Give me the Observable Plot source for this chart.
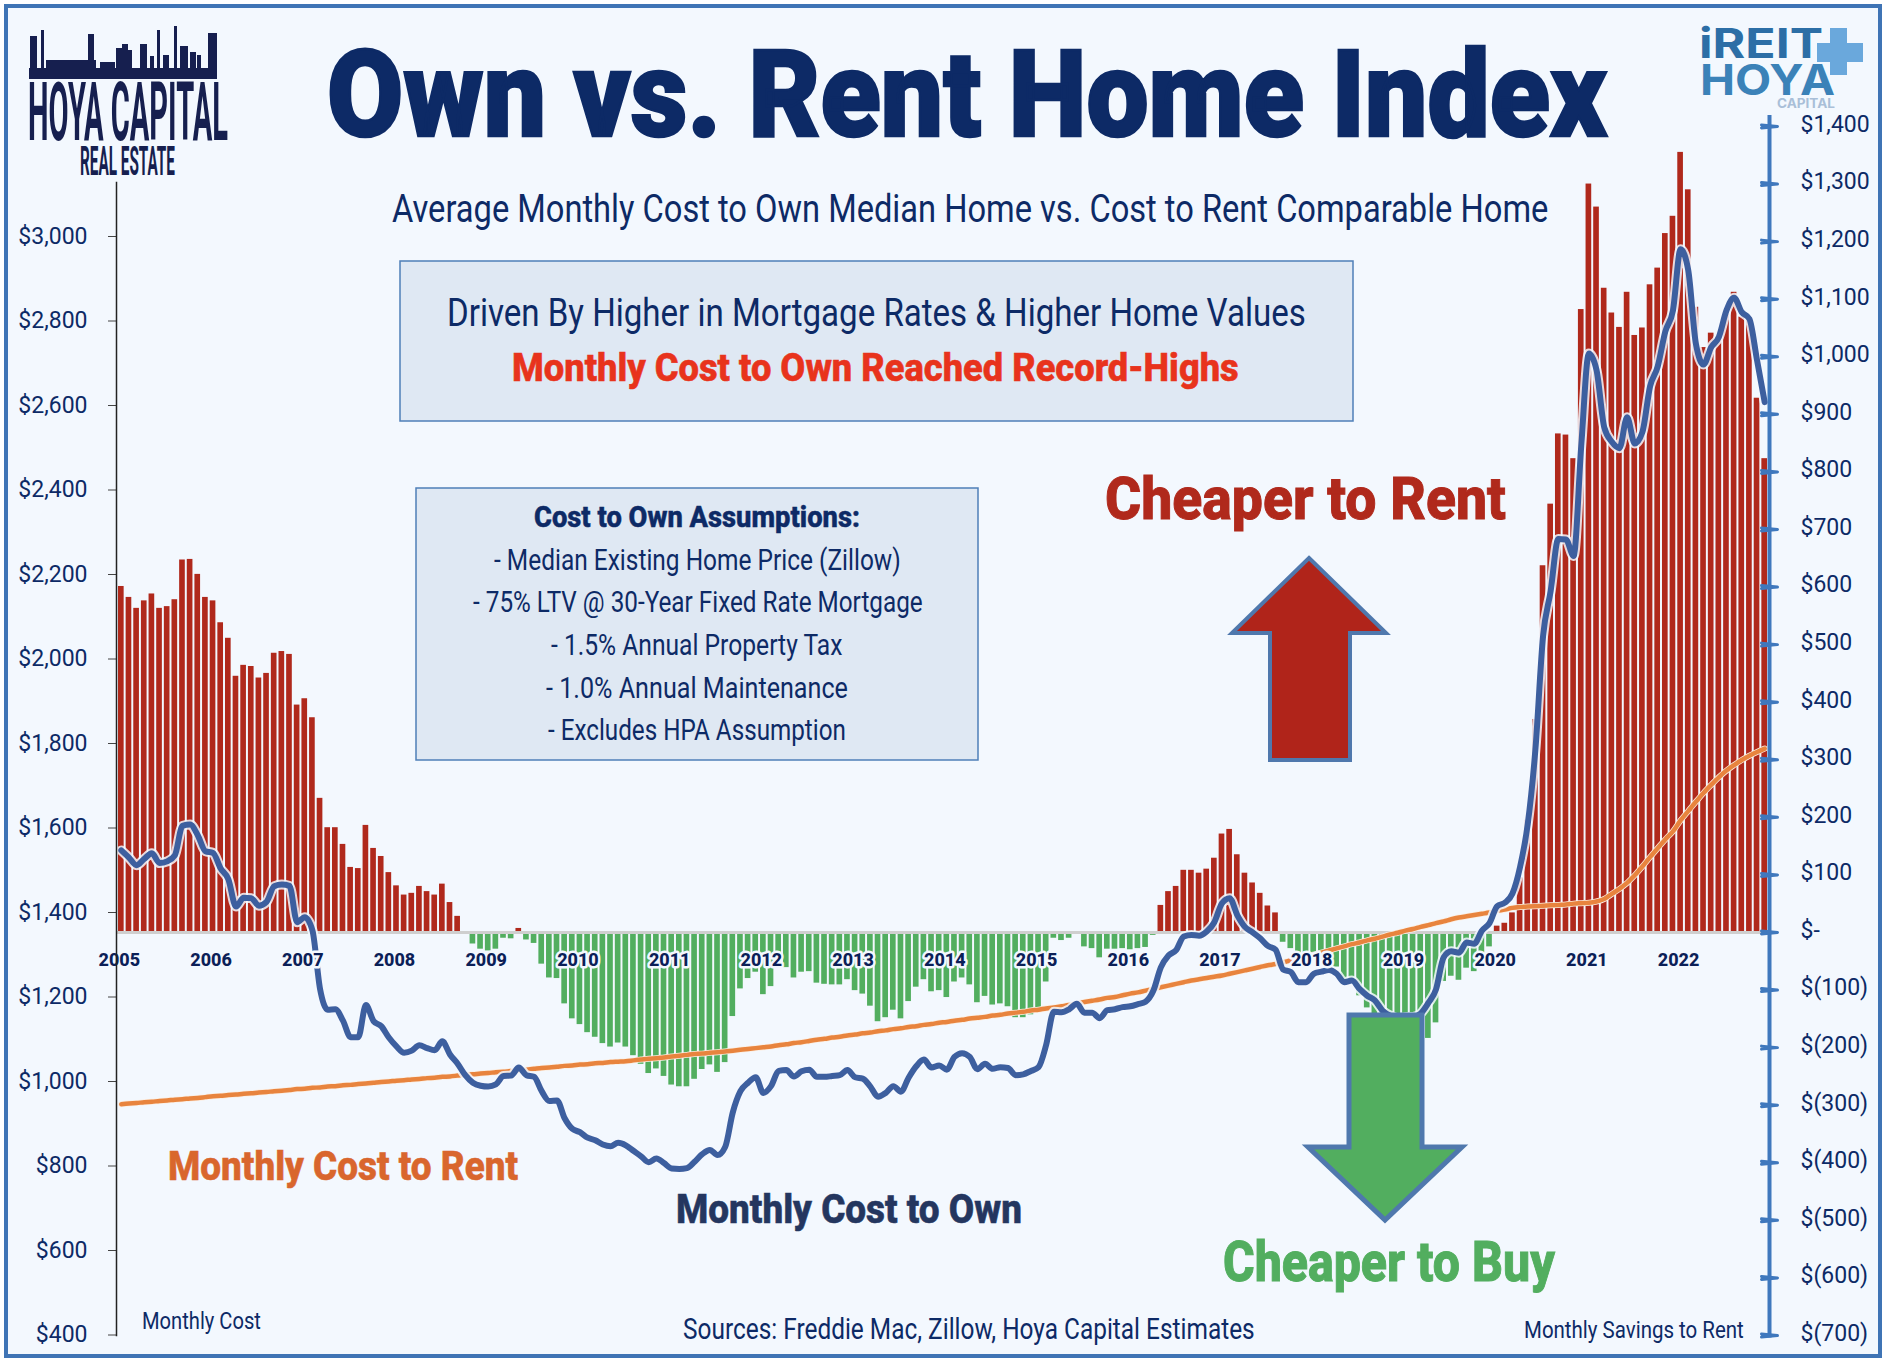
<!DOCTYPE html>
<html><head><meta charset="utf-8">
<script src="https://cdn.jsdelivr.net/npm/d3@7"></script>
<script src="https://cdn.jsdelivr.net/npm/@observablehq/plot@0.6"></script>
<style>
html,body{margin:0;padding:0;background:#fff;}
#panel{position:absolute;left:4px;top:4px;width:1870px;height:1346px;border:4px solid #3f74b5;background:#f3f8fe;}
#chart{position:absolute;left:0;top:0;}
</style></head><body>
<div id="panel"></div><div id="chart"></div>
<script>
const years = [2005,2006,2007,2008,2009,2010,2011,2012,2013,2014,2015,2016,2017,2018,2019,2020,2021,2022];
const leftTicks = [400,600,800,1000,1200,1400,1600,1800,2000,2200,2400,2600,2800,3000];
const leftLabels = ["$400","$600","$800","$1,000","$1,200","$1,400","$1,600","$1,800","$2,000","$2,200","$2,400","$2,600","$2,800","$3,000"];
const rightTicks = [-700,-600,-500,-400,-300,-200,-100,0,100,200,300,400,500,600,700,800,900,1000,1100,1200,1300,1400];
const rightLabels = ["$(700)","$(600)","$(500)","$(400)","$(300)","$(200)","$(100)","$-","$100","$200","$300","$400","$500","$600","$700","$800","$900","$1,000","$1,100","$1,200","$1,300","$1,400"];

const savings = [
601,582,563,576,588,563,566,578,647,648,622,582,
576,538,511,445,464,462,442,450,485,488,483,395,
406,373,233,182,182,153,113,111,186,146,132,104,
81,65,68,80,71,65,84,52,28,-1,-20,-29,
-32,-29,-10,-11,7,-13,-19,-55,-79,-80,-124,-150,
-160,-174,-182,-193,-199,-192,-199,-214,-229,-245,-237,-250,
-265,-268,-268,-255,-238,-230,-243,-226,-146,-98,-80,-69,
-108,-94,-61,-61,-79,-69,-68,-88,-90,-91,-91,-82,
-101,-107,-128,-155,-148,-135,-150,-120,-95,-82,-103,-101,
-113,-86,-79,-91,-122,-111,-126,-124,-129,-148,-148,-143,
-136,-86,-10,-14,-10,-1,-25,-28,-44,-29,-29,-28,
-30,-28,-26,-5,47,71,80,108,108,103,110,129,
171,179,135,103,86,68,46,34,-17,-28,-56,-61,
-45,-45,-46,-60,-85,-86,-110,-131,-146,-175,-192,-202,
-205,-208,-205,-184,-157,-85,-76,-83,-62,-68,-40,-25,
11,16,34,95,195,370,637,744,866,864,823,1082,
1300,1260,1119,1076,1051,1112,1037,1050,1125,1154,1214,1244,
1355,1290,1086,1016,1041,1035,1074,1112,1069,1066,928,823];

const rent = [
946,948,949,951,952,954,955,957,958,960,961,963,
965,966,968,969,971,972,974,975,977,978,980,982,
983,985,986,988,989,991,992,994,995,997,999,1000,
1002,1003,1005,1006,1008,1009,1011,1012,1014,1016,1017,1019,
1020,1022,1023,1025,1026,1028,1030,1032,1033,1035,1037,1038,
1040,1041,1043,1044,1046,1047,1048,1050,1052,1054,1055,1057,
1059,1061,1063,1065,1066,1068,1069,1071,1073,1075,1077,1079,
1081,1083,1086,1088,1091,1093,1096,1099,1101,1104,1106,1109,
1111,1114,1116,1119,1121,1124,1126,1129,1131,1134,1136,1139,
1141,1144,1146,1149,1151,1153,1156,1158,1161,1163,1165,1168,
1170,1173,1175,1178,1181,1185,1188,1191,1194,1198,1200,1204,
1208,1211,1215,1219,1223,1227,1231,1235,1239,1242,1245,1248,
1251,1255,1259,1263,1267,1271,1275,1278,1282,1287,1291,1296,
1300,1305,1310,1315,1320,1325,1329,1334,1338,1343,1348,1352,
1357,1361,1366,1370,1375,1379,1384,1388,1391,1394,1397,1400,
1404,1407,1411,1413,1414,1415,1416,1417,1418,1419,1421,1422,
1423,1426,1432,1444,1456,1470,1488,1509,1531,1552,1573,1592,
1618,1640,1662,1683,1702,1720,1736,1749,1761,1771,1780,1788];

const own = [
1547,1530,1512,1527,1540,1517,1521,1535,1605,1608,1583,1545,
1541,1504,1479,1414,1435,1434,1416,1425,1462,1466,1463,1377,
1389,1358,1219,1170,1171,1144,1105,1105,1181,1143,1131,1104,
1083,1068,1073,1086,1079,1074,1095,1064,1042,1015,997,990,
988,993,1013,1014,1033,1015,1011,977,954,955,913,888,
880,867,861,851,847,855,849,836,823,809,818,807,
794,793,795,810,828,838,826,845,927,977,997,1010,
973,989,1025,1027,1012,1024,1028,1011,1011,1013,1015,1027,
1010,1007,988,964,973,989,976,1009,1036,1052,1033,1038,
1028,1058,1067,1058,1029,1042,1030,1034,1032,1015,1017,1025,
1034,1087,1165,1164,1171,1184,1163,1163,1150,1169,1171,1176,
1178,1183,1189,1214,1270,1298,1311,1343,1347,1345,1355,1377,
1422,1434,1394,1366,1353,1339,1321,1312,1265,1259,1235,1235,
1255,1260,1264,1255,1235,1239,1219,1203,1192,1168,1156,1150,
1152,1153,1161,1186,1218,1294,1308,1305,1329,1326,1357,1375,
1415,1423,1445,1508,1609,1785,2053,2161,2284,2283,2244,2504,
2723,2684,2549,2514,2499,2572,2510,2537,2645,2692,2775,2825,
2970,2920,2746,2697,2738,2762,2825,2855,2821,2805,2707,2608];

const NAVY="#0d2a66", RED="#b0291c", GREEN="#52ae5f", ORANGE="#e8843e", LINE="#3d5f9f", AXIS="#3f78bd", BG="#f3f8fe";

const months = years.flatMap(y => d3.range(1,13).map(m => `${y}-${String(m).padStart(2,"0")}`));
const rows = months.map((month,i) => ({month, savings:savings[i], rent:rent[i], own:own[i]}));
const toCost = d3.scaleLinear().domain([0,1400]).range([1352.7,3260.4]);
const rightLabel = new Map(rightTicks.map((t,i)=>[t,rightLabels[i]]));
const leftLabel = new Map(leftTicks.map((t,i)=>[t,leftLabels[i]]));

/* annotations: text, x, baseline, size, weight, colour, width, extra stroke */
const texts = [
 ["Own vs. Rent Home Index",327,136,120,900,NAVY,1280,2.5],
 ["Average Monthly Cost to Own Median Home vs. Cost to Rent Comparable Home",392,222,38,400,NAVY,1157,0],
 ["Driven By Higher in Mortgage Rates & Higher Home Values",447,326,38,400,NAVY,859,0],
 ["Monthly Cost to Own Reached Record-Highs",512,381,38,800,"#e8331c",727,.6],
 ["Cost to Own Assumptions:",534,527,30,800,NAVY,326,.5],
 ["- Median Existing Home Price (Zillow)",494,570,30,400,NAVY,407,0],
 ["- 75% LTV @ 30-Year Fixed Rate Mortgage",473,612,30,400,NAVY,450,0],
 ["- 1.5% Annual Property Tax",551,655,30,400,NAVY,292,0],
 ["- 1.0% Annual Maintenance",546,698,30,400,NAVY,302,0],
 ["- Excludes HPA Assumption",548,740,30,400,NAVY,298,0],
 ["Cheaper to Rent",1105,519,60,800,RED,401,1],
 ["Cheaper to Buy",1223,1281,56,800,GREEN,332,1],
 ["Monthly Cost to Rent",168,1180,40,800,"#d9662d",350,.6],
 ["Monthly Cost to Own",676,1223,40,800,"#24365f",346,.6],
 ["Monthly Cost",142,1329,24,400,NAVY,119,0],
 ["Sources: Freddie Mac, Zillow, Hoya Capital Estimates",683,1339,29,400,NAVY,572,0],
 ["Monthly Savings to Rent",1524,1338,24,400,NAVY,220,0]
];
const boxes = [[400,261,953,160],[416,488,562,272]];
const redArrow = "1309,558 1386,633 1350,633 1350,760 1270,760 1270,633 1232,633";
const greenArrow = "1349,1015 1422,1015 1422,1147 1462,1147 1385,1220 1308,1147 1349,1147";
const towers = [[30,36,7],[41,30,3],[46,60,50],[88,34,6],[100,62,15],[116,48,6],[122,44,6],[128,50,4],[140,44,7],[150,56,4],[157,30,3],[163,55,6],[174,26,3],[180,46,8],[190,52,6],[197,55,4],[208,33,9]];

const measure = document.createElement("canvas").getContext("2d");
function fitted(g,s,x,y,size,weight,fill,len,family,sw=0){
  measure.font = `${weight} ${size}px ${family}`;
  const sx = len / measure.measureText(s).width;
  return g.append("text").text(s).attr("transform",`translate(${x},${y}) scale(${sx},1)`)
    .attr("font-size",size).attr("font-weight",weight).attr("fill",fill)
    .attr("stroke",sw?fill:"none").attr("stroke-width",sw).attr("font-family",family);
}
function overlay(){
  const g = d3.create("svg:g").attr("text-anchor","start");
  for (const [x,y,w,h] of boxes)
    g.append("rect").attr("x",x).attr("y",y).attr("width",w).attr("height",h).attr("fill","#dfe8f3").attr("stroke","#4f7fb8").attr("stroke-width",1.5);
  g.append("polygon").attr("points",redArrow).attr("fill","#b0241a").attr("stroke","#4f78ad").attr("stroke-width",4);
  g.append("polygon").attr("points",greenArrow).attr("fill",GREEN).attr("stroke","#4f78ad").attr("stroke-width",5);
  for (const [s,x,y,size,weight,fill,len,sw] of texts) fitted(g,s,x,y,size,weight,fill,len,"Roboto",sw);
  /* Hoya Capital logo */
  const ink="#161f4f";
  g.append("rect").attr("x",29).attr("y",68).attr("width",188).attr("height",11).attr("fill",ink);
  for (const [x,y,w] of towers) g.append("rect").attr("x",x).attr("y",y).attr("width",w).attr("height",70-y).attr("fill",ink);
  for (const [s,x,y,size,len] of [["HOYA CAPITAL",28,140,82,200],["REAL ESTATE",80,175,40,95]])
    fitted(g,s,x,y,size,700,ink,len,"Roboto");
  /* iREIT logo, masks the top of the right axis labels */
  g.append("rect").attr("x",1695).attr("y",12).attr("width",176).attr("height",103).attr("fill",BG);
  for (const [x,y,w,h] of [[1817,43,46,19],[1830,28,17,47]])
    g.append("rect").attr("x",x).attr("y",y).attr("width",w).attr("height",h).attr("fill","#6aa8dc");
  for (const [s,x,y,size,len,fill] of [["iREIT",1699,58,41,124,"#2c6ea6"],["HOYA",1700,95,42,135,"#3b82b8"],["CAPITAL",1777,108,13,58,"#a9bfd8"]])
    fitted(g,s,x,y,size,700,fill,len,"Inter");
  return g.node();
}

const chart = Plot.plot({
  width:1886, height:1362,
  marginLeft:116, marginRight:117, marginTop:115, marginBottom:27,
  style:{background:"transparent", fontFamily:"Roboto", overflow:"visible"},
  x:{type:"band", domain:months, range:[116,1769], padding:0.26, axis:null},
  y:{domain:[400,3000], range:[1334.5,236], axis:null},
  marks:[
    Plot.barY(rows,{x:"month", y1:()=>toCost(0), y2:d=>toCost(d.savings), fill:d=>d.savings>=0?RED:GREEN}),
    Plot.ruleY([toCost(0)],{stroke:"#cfcfcf", strokeWidth:3}),
    Plot.line(rows,{x:"month", y:"rent", stroke:"#fbeee2", strokeWidth:6, curve:"monotone-x"}),
    Plot.line(rows,{x:"month", y:"rent", stroke:ORANGE, strokeWidth:4.5, curve:"monotone-x"}),
    Plot.line(rows,{x:"month", y:"own", stroke:"#f3f8fe", strokeOpacity:.85, strokeWidth:10, curve:"monotone-x"}),
    Plot.line(rows,{x:"month", y:"own", stroke:LINE, strokeWidth:6, curve:"monotone-x"}),
    Plot.text(years,{x:d=>`${d}-01`, y:()=>toCost(0), dy:28, dx:-2, text:d=>String(d), fill:"#0b2057", fontWeight:800, fontSize:18, stroke:BG, strokeWidth:5, paintOrder:"stroke"}),
    Plot.axisY(leftTicks,{anchor:"left", tickSize:8, tickPadding:21, fontSize:23, color:NAVY, stroke:"#444", tickFormat:d=>leftLabel.get(d)}),
    Plot.frame({anchor:"left", insetTop:67, stroke:"#222", strokeWidth:1.5}),
    Plot.frame({anchor:"right", stroke:AXIS, strokeWidth:4}),
    Plot.vector(rightTicks,{y:d=>toCost(d), frameAnchor:"right", rotate:90, length:16, anchor:"middle", stroke:AXIS, strokeWidth:3, shape:"spike", r:1.5}),
    Plot.axisY(rightTicks.map(t=>toCost(t)),{anchor:"right", tickSize:0, tickPadding:31, fontSize:23, dy:-2, color:NAVY, textAnchor:"start",
      tickFormat:d=>rightLabel.get(Math.round(toCost.invert(d)))}),
    overlay
  ]
});
document.getElementById("chart").append(chart);
</script></body></html>
